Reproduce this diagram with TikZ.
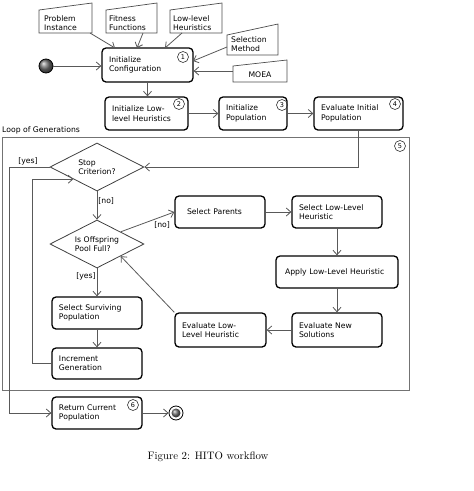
\documentclass[tikz,border=0pt]{standalone}
\usepackage{fontspec}
\newfontfamily\djsans{DejaVu Sans}
\usetikzlibrary{arrows.meta,shapes.geometric,calc}
\begin{document}
\begin{tikzpicture}[x=1pt,y=-1pt,
  lbl/.style={font=\djsans\fontsize{7.7}{9.4}\selectfont},
  box/.style={lbl,draw=black,line width=1.3pt,rounded corners=4pt,inner xsep=7pt,inner ysep=0pt,align=left},
  dia/.style={lbl,draw=black!75,line width=0.8pt,shape=diamond,aspect=1.96,inner sep=0pt,minimum width=94pt,minimum height=48pt,align=left},
  note/.style={draw=black!70,line width=0.7pt},
  notetext/.style={lbl,align=left,inner sep=0pt,anchor=west},
  conn/.style={draw=black!65,line width=0.8pt,-{Straight Barb[length=4.5pt,width=8pt]}},
  plain/.style={draw=black!65,line width=0.8pt},
  numc/.style={circle,draw=black!80,line width=0.6pt,inner sep=0pt,minimum size=11pt,font=\djsans\fontsize{6.5}{6.5}\selectfont},
  guard/.style={lbl,inner sep=1pt}]
\useasboundingbox (0,0) rectangle (474,491);

% notes
\draw[note] (39,33) -- (39,10) -- (92,3) -- (92,33) -- cycle;
\node[notetext] (pi) at (44,23) {Problem\\Instance};
\draw[note] (106,33) -- (106,10) -- (157,3) -- (157,33) -- cycle;
\node[notetext] (ff) at (109,23) {Fitness\\Functions};
\draw[note] (170,33) -- (170,10) -- (222,3) -- (222,33) -- cycle;
\node[notetext] (llh) at (173,23) {Low-level\\Heuristics};
\draw[note] (227,55) -- (227,35) -- (278,24) -- (278,55) -- cycle;
\node[notetext] (sm) at (231,44) {Selection\\Method};
\draw[note] (233,82) -- (233,66) -- (287,60) -- (287,82) -- cycle;
\node[lbl,inner sep=0pt] (moea) at (260,75) {MOEA};
\coordinate (piout) at (90,33);
\coordinate (ffout) at (143,33);
\coordinate (llhout) at (182,33);
\coordinate (smout) at (227,47);
\coordinate (moeaout) at (233,71);

% start
\node[circle,draw=black,line width=0.8pt,minimum size=14pt,inner sep=0pt,ball color=black!55] (start) at (46,66) {};

% boxes
\node[box,text width=77pt,minimum height=34pt] (init) at (147.5,65) {Initialize\\Configuration};
\node[box,text width=69pt,minimum height=33pt] (initll) at (146.5,113.5) {Initialize Low-\\level Heuristics};
\node[box,text width=54pt,minimum height=33pt] (initpop) at (253,113.5) {Initialize\\Population};
\node[box,text width=75pt,minimum height=33pt] (evalinit) at (358.5,113.5) {Evaluate Initial\\Population};

\node[numc] at (183,57) {1};
\node[numc] at (179,104) {2};
\node[numc] at (282,105) {3};
\node[numc] at (395,104) {4};

% loop frame
\draw[draw=black!55,line width=0.8pt] (2,137) rectangle (409,390);
\node[lbl,anchor=west,inner sep=0pt] (looplbl) at (2,130) {Loop of Generations};
\node[numc] at (400,146) {5};

\node[dia] (stop) at (97,167) {Stop\\Criterion?};
\node[dia] (offs) at (97,244) {Is Offspring\\Pool Full?};

\node[box,text width=66pt,inner xsep=12pt,minimum height=32pt] (selpar) at (220,212) {Select Parents};
\node[box,text width=76pt,minimum height=32pt] (selllh) at (337,212) {Select Low-Level\\Heuristic};
\node[box,text width=104pt,inner xsep=9pt,minimum height=32pt] (apply) at (337,272) {Apply Low-Level Heuristic};
\node[box,text width=76pt,minimum height=34pt] (evalnew) at (337,330) {Evaluate New\\Solutions};
\node[box,text width=77pt,minimum height=34pt] (evallow) at (220.5,330) {Evaluate Low-\\Level Heuristic};
\node[box,text width=76pt,minimum height=32pt] (selsurv) at (97,313) {Select Surviving\\Population};
\node[box,text width=76pt,minimum height=31pt] (incr) at (97,363.5) {Increment\\Generation};
\node[box,text width=76pt,minimum height=32pt] (ret) at (97,413) {Return Current\\Population};
\node[numc] at (133,405) {6};

% end
\node[circle,draw=black,line width=0.8pt,minimum size=14pt,inner sep=0pt] (end) at (176,413) {};
\node[circle,ball color=black!55,minimum size=9pt,inner sep=0pt] (endin) at (end) {};

% connectors
\draw[conn] (piout) -- (115,48);
\draw[conn] (ffout) -- (137,48);
\draw[conn] (llhout) -- (165,48);
\draw[conn] (smout) -- (193,61);
\draw[conn] (moeaout) -- (moeaout -| init.east);
\draw[conn] (start) -- (start -| init.west);
\draw[conn] (init.south) -- (initll.north -| init.south);
\draw[conn] (initll.east) -- (initll.east -| initpop.west);
\draw[conn] (initpop.east) -- (initpop.east -| evalinit.west);
\draw[conn] (evalinit.south) |- (stop.east);
\draw[plain] (stop.west) -- (9,167) |- (ret.west);
\draw[conn] (9,413) -- (ret.west);
\node[guard,anchor=south] at (28,166) {[yes]};
\draw[conn] (stop.south) -- node[guard,anchor=west,pos=0.35] {[no]} (offs.north);
\draw[conn] (offs.north east) -- node[guard,anchor=north west,pos=0.6] {[no]} (selpar.west);
\draw[conn] (selpar.east) -- (selllh.west);
\draw[conn] (selllh.south) -- (apply.north);
\draw[conn] (apply.south) -- (evalnew.north);
\draw[conn] (evalnew.west) -- (evallow.east);
\draw[conn] (evallow.north west) -- (offs.south east);
\draw[conn] (offs.south) -- node[guard,anchor=east,pos=0.3] {[yes]} (selsurv.north);
\draw[conn] (selsurv.south) -- (incr.north);
\draw[conn] (incr.west) -- (32,363.5) |- (stop.south west);
\draw[conn] (ret.east) -- (end.west);

% caption
\node[font=\fontsize{10.8}{13}\selectfont,inner sep=0pt] (cap) at (208,457) {Figure 2: HITO workflow};
\end{tikzpicture}
\end{document}
